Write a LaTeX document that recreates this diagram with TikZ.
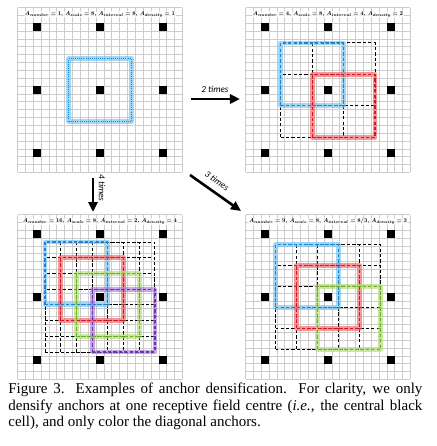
\documentclass[tikz,border=0pt]{standalone}
\usepackage{amsmath,amssymb}
\usepackage{graphicx}
\usepackage{fontspec}
\setmainfont{Liberation Serif}
\newfontfamily\notefont{Carlito}
\usetikzlibrary{arrows.meta}

\definecolor{haloblue}{RGB}{110,195,245}
\definecolor{rimblue}{RGB}{30,130,215}
\definecolor{halored}{RGB}{245,95,100}
\definecolor{rimred}{RGB}{215,20,35}
\definecolor{halogreen}{RGB}{175,220,110}
\definecolor{rimgreen}{RGB}{105,175,40}
\definecolor{halopurple}{RGB}{170,120,215}
\definecolor{rimpurple}{RGB}{105,50,175}

\begin{document}
\begin{tikzpicture}[x=0.5pt, y=-0.5pt,
  gridline/.style={draw=black!20, line width=0.35pt, step={(1,1)}},
  cellmark/.style={fill=black},
  paneltext/.style={inner sep=0.4pt, fill=white, fill opacity=0.7, text opacity=1},
  anchorbox/.style={draw=black, line width=0.45pt, dash pattern=on 1.6pt off 1.1pt},
  halo/.style={draw=#1, line width=2.4pt, opacity=0.65, line join=round},
  rim/.style={draw=#1, line width=0.6pt, dash pattern=on 1.6pt off 1.1pt},
  rimdot/.style={draw=#1, line width=0.7pt, dash pattern=on 0.45pt off 0.6pt},
  bigarrow/.style={-{Triangle[length=5pt,width=4.5pt]}, line width=1.3pt},
  notetext/.style={font=\notefont\itshape\fontsize{4.6}{5}\selectfont, inner sep=0pt}]
\useasboundingbox (0,0) rectangle (436,446);

\begin{scope}[shift={(100,90)}, x=3.925pt, y=3.925pt]
\draw[gridline, shift={(0.5,0.5)}] (-11,-11) grid (10,10);
\foreach \i in {-8,0,8}
  \foreach \j in {-8,0,8}
    \fill[cellmark] (\i-0.5,\j-0.5) rectangle ++(1,1);
\node[paneltext] (lab1) at (0,9.6) {\resizebox{75pt}{!}{\boldmath$A_{number}=1,\,A_{scale}=8,\,A_{interval}=8,\,A_{density}=1$}};
\draw[halo=haloblue] (-4,-4) rectangle (4,4);
\draw[rimdot=rimblue] (-4,-4) rectangle (4,4);
\end{scope}

\begin{scope}[shift={(328,90)}, x=3.925pt, y=3.925pt]
\draw[gridline, shift={(0.5,0.5)}] (-11,-11) grid (10,10);
\foreach \i in {-8,0,8}
  \foreach \j in {-8,0,8}
    \fill[cellmark] (\i-0.5,\j-0.5) rectangle ++(1,1);
\node[paneltext] (lab2) at (0,9.6) {\resizebox{75pt}{!}{\boldmath$A_{number}=4,\,A_{scale}=8,\,A_{interval}=4,\,A_{density}=2$}};
\foreach \i in {-2,2}
  \foreach \j in {-2,2}
    \draw[anchorbox] (\i-4,\j-4) rectangle (\i+4,\j+4);
\draw[halo=haloblue] (-6,-2) rectangle (2,6);
\draw[halo=halored] (-2,-6) rectangle (6,2);
\draw[rim=rimblue] (-6,-2) rectangle (2,6);
\draw[rim=rimred] (-2,-6) rectangle (6,2);
\end{scope}

\begin{scope}[shift={(100,297)}, x=3.925pt, y=3.925pt]
\draw[gridline, shift={(0.5,0.5)}] (-11,-11) grid (10,10);
\foreach \i in {-8,0,8}
  \foreach \j in {-8,0,8}
    \fill[cellmark] (\i-0.5,\j-0.5) rectangle ++(1,1);
\node[paneltext] (lab3) at (0,9.6) {\resizebox{77pt}{!}{\boldmath$A_{number}=16,\,A_{scale}=8,\,A_{interval}=2,\,A_{density}=4$}};
\foreach \i in {-3,-1,1,3}
  \foreach \j in {-3,-1,1,3}
    \draw[anchorbox] (\i-4,\j-4) rectangle (\i+4,\j+4);
\draw[halo=haloblue] (-7,-1) rectangle (1,7);
\draw[halo=halored] (-5,-3) rectangle (3,5);
\draw[halo=halogreen] (-3,-5) rectangle (5,3);
\draw[halo=halopurple] (-1,-7) rectangle (7,1);
\draw[rim=rimblue] (-7,-1) rectangle (1,7);
\draw[rim=rimred] (-5,-3) rectangle (3,5);
\draw[rim=rimgreen] (-3,-5) rectangle (5,3);
\draw[rim=rimpurple] (-1,-7) rectangle (7,1);
\end{scope}

\begin{scope}[shift={(328,297)}, x=3.925pt, y=3.925pt]
\draw[gridline, shift={(0.5,0.5)}] (-11,-11) grid (10,10);
\foreach \i in {-8,0,8}
  \foreach \j in {-8,0,8}
    \fill[cellmark] (\i-0.5,\j-0.5) rectangle ++(1,1);
\node[paneltext] (lab4) at (0,9.6) {\resizebox{79pt}{!}{\boldmath$A_{number}=9,\,A_{scale}=8,\,A_{interval}=8/3,\,A_{density}=3$}};
\foreach \i in {-2.667,0,2.667}
  \foreach \j in {-2.667,0,2.667}
    \draw[anchorbox] (\i-4,\j-4) rectangle (\i+4,\j+4);
\draw[halo=haloblue] (-6.667,-1.333) rectangle (1.333,6.667);
\draw[halo=halored] (-4,-4) rectangle (4,4);
\draw[halo=halogreen] (-1.333,-6.667) rectangle (6.667,1.333);
\draw[rim=rimblue] (-6.667,-1.333) rectangle (1.333,6.667);
\draw[rim=rimred] (-4,-4) rectangle (4,4);
\draw[rim=rimgreen] (-1.333,-6.667) rectangle (6.667,1.333);
\end{scope}

\coordinate (s12) at (191,99);
\coordinate (e12) at (240,99);
\coordinate (s13) at (93,178);
\coordinate (e13) at (93,212);
\coordinate (s14) at (190,175);
\coordinate (e14) at (241,211);
\draw[bigarrow] (s12) -- (e12);
\draw[bigarrow] (s13) -- (e13);
\draw[bigarrow] (s14) -- (e14);
\node[notetext] (t12) at (215,89) {2 times};
\node[notetext, rotate=-90] (t13) at (102,188) {4 times};
\node[notetext, rotate=-35] (t14) at (217,181) {3 times};

\node[anchor=north west, inner sep=0pt, text width=207pt, align=justify,
  font=\fontsize{7.5}{8.2}\selectfont] (cap) at (8,383)
  {Figure 3. Examples of anchor densification.\ \ For clarity, we only\linebreak
   densify anchors at one receptive field centre (\textit{i.e.}, the central black\linebreak
   cell), and only color the diagonal anchors.};
\end{tikzpicture}
\end{document}
